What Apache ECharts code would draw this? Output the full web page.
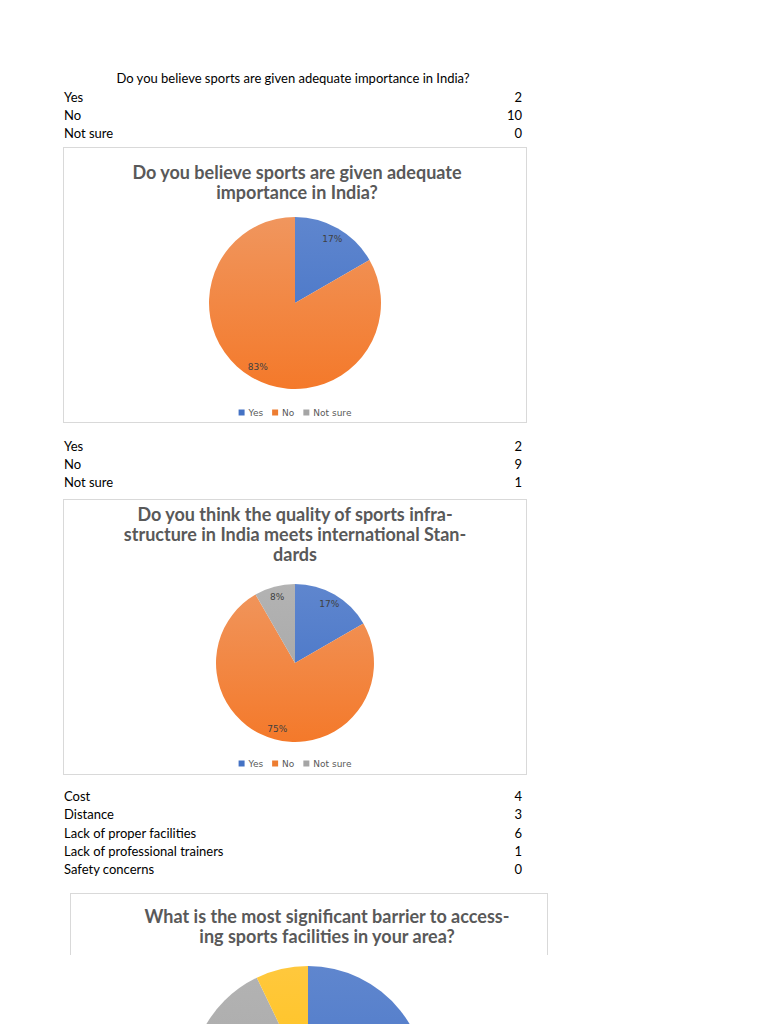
<!DOCTYPE html>
<html>
<head>
<meta charset="utf-8">
<script src="https://cdn.jsdelivr.net/npm/echarts@6/dist/echarts.min.js"></script>
<style>
  html, body { margin: 0; padding: 0; background: #fff; }
  body { width: 768px; height: 1024px; position: relative; overflow: hidden; font-family: Lato, "Noto Sans", sans-serif; color: #000; }
  .hdr { position: absolute; left: 64px; width: 458px; text-align: center; font-size: 13px; line-height: 18px; }
  .tbl { position: absolute; left: 64px; width: 458px; font-size: 13px; }
  .row { display: flex; justify-content: space-between; height: 18px; line-height: 18px; }
  .box { position: absolute; box-sizing: border-box; border: 1px solid #d9d9d9; }
  .chart { position: absolute; }
</style>
</head>
<body>
<div class="hdr" id="hdr1" style="top:69px;"></div>
<div class="tbl" id="tbl1" style="top:88px;"></div>
<div class="box" style="left:63px; top:147px; width:464px; height:276px;"></div>
<div class="chart" id="c1" style="left:64px; top:148px; width:462px; height:274px;"></div>

<div class="tbl" id="tbl2" style="top:437px;"></div>
<div class="box" style="left:63px; top:499px; width:464px; height:276px;"></div>
<div class="chart" id="c2" style="left:64px; top:500px; width:462px; height:274px;"></div>

<div class="tbl" id="tbl3" style="top:787px;"></div>
<div class="box" style="left:70px; top:893px; width:478px; height:62px; border-bottom:none;"></div>
<div class="chart" id="c3" style="left:71px; top:894px; width:476px; height:300px;"></div>

<script>
// ---------- Data ----------
const q1Header = "Do you believe sports are given adequate importance in India?";
const q1Title = "Do you believe sports are given adequate\nimportance in India?";
const q1Categories = ["Yes", "No", "Not sure"];
const q1Values = [2, 10, 0];

const q2Title = "Do you think the quality of sports infra-\nstructure in India meets international Stan-\ndards";
const q2Categories = ["Yes", "No", "Not sure"];
const q2Values = [2, 9, 1];

const q3Title = "What is the most significant barrier to access-\ning sports facilities in your area?";
const q3Categories = ["Cost", "Distance", "Lack of proper facilities", "Lack of professional trainers", "Safety concerns"];
const q3Values = [4, 3, 6, 1, 0];

// ---------- Styles ----------
const solidColors = ["#4472C4", "#ED7D31", "#A5A5A5", "#FFC000", "#5B9BD5"];
const gradTop = ["#5F86CE", "#F0965E", "#B3B3B3", "#FFC83D", "#6FA8DC"];
const gradBottom = ["#4070C6", "#F4792A", "#A3A3A3", "#FFBE00", "#5B9BD5"];

function fillTable(id, cats, vals) {
  const el = document.getElementById(id);
  el.innerHTML = cats.map((c, i) =>
    '<div class="row"><span>' + c + '</span><span>' + vals[i] + '</span></div>').join('');
}
document.getElementById('hdr1').textContent = q1Header;
fillTable('tbl1', q1Categories, q1Values);
fillTable('tbl2', q2Categories, q2Values);
fillTable('tbl3', q3Categories, q3Values);
document.querySelectorAll('#tbl3 .row').forEach(r => { r.style.height = '18.25px'; r.style.lineHeight = '18.25px'; });

function makePie(id, cfg) {
  const chart = echarts.init(document.getElementById(id), null, { renderer: 'svg' });
  const r = cfg.r, cx = cfg.cx, cy = cfg.cy;
  const data = cfg.cats.map((c, i) => ({
    name: c,
    value: cfg.vals[i],
    itemStyle: {
      color: {
        type: 'linear', x: 0, y: cy - r, x2: 0, y2: cy + r, global: true,
        colorStops: [{ offset: 0, color: gradTop[i] }, { offset: 1, color: gradBottom[i] }]
      }
    }
  }));
  const labelData = cfg.cats.map((c, i) => ({ name: c, value: cfg.vals[i] }));
  chart.setOption({
    animation: false,
    color: solidColors,
    title: {
      text: cfg.title,
      left: cfg.titleX, top: cfg.titleTop,
      padding: 0,
      textAlign: 'center',
      textStyle: {
        fontFamily: 'Lato', fontWeight: 'bold', fontSize: 18,
        color: '#595959', lineHeight: 20
      }
    },
    legend: {
      show: cfg.legend,
      top: cfg.legendTop, left: 'center',
      icon: 'rect', itemWidth: 6, itemHeight: 6, itemGap: 9,
      textStyle: { fontFamily: 'DejaVu Sans', fontSize: 9, color: '#595959', padding: [0, 0, 0, -1] },
      data: cfg.cats.map((c, i) => ({ name: c, itemStyle: { color: solidColors[i] } }))
    },
    series: [
      {
        type: 'pie',
        center: [cx, cy],
        radius: [0, r],
        startAngle: 90,
        clockwise: true,
        label: { show: false },
        labelLine: { show: false },
        emphasis: { disabled: true },
        itemStyle: { borderWidth: 0 },
        data: data
      },
      {
        type: 'pie',
        center: [cx, cy],
        radius: [0, r * cfg.labelFactor],
        startAngle: 90,
        clockwise: true,
        silent: true,
        percentPrecision: 0,
        itemStyle: { color: 'rgba(0,0,0,0)', borderWidth: 0 },
        emphasis: { disabled: true },
        labelLine: { show: false },
        label: {
          show: cfg.labels,
          position: 'inside',
          fontFamily: 'DejaVu Sans', fontSize: 9, color: '#404040',
          formatter: p => p.value ? p.percent + '%' : ''
        },
        data: labelData
      }
    ]
  });
  return chart;
}

makePie('c1', { cats: q1Categories, vals: q1Values, title: q1Title, titleX: 233, titleTop: 14,
  cx: 231, cy: 155, r: 86, legend: true, legendTop: 255, labels: true, labelFactor: 1.66 });
makePie('c2', { cats: q2Categories, vals: q2Values, title: q2Title, titleX: 231, titleTop: 4,
  cx: 231, cy: 163, r: 79, legend: true, legendTop: 254, labels: true, labelFactor: 1.66 });
makePie('c3', { cats: q3Categories, vals: q3Values, title: q3Title, titleX: 256, titleTop: 12,
  cx: 237, cy: 190, r: 118, legend: false, legendTop: 290, labels: false, labelFactor: 1.7 });
</script>
</body>
</html>
